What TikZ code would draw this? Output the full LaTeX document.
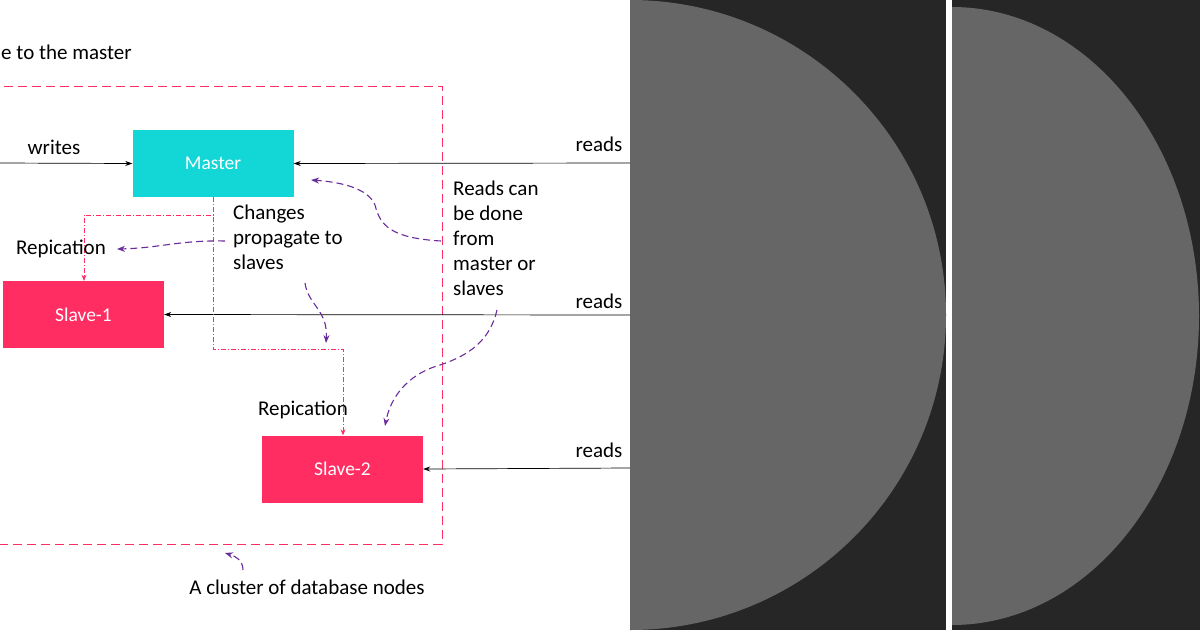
\documentclass[tikz,border=0pt]{standalone}
\usepackage{fontspec}
\setmainfont{Carlito}
\usetikzlibrary{arrows.meta}
\definecolor{cy}{HTML}{13D6D6}
\definecolor{pk}{HTML}{FF2D62}
\definecolor{pu}{HTML}{6A2C9A}
\definecolor{dk}{HTML}{262626}
\definecolor{gr}{HTML}{666666}
\begin{document}
\begin{tikzpicture}[x=1pt,y=-1pt,
 box/.style={draw=none,minimum width=161pt,minimum height=67pt,text=white,font=\fontsize{19.5}{20}\selectfont},
 lbl/.style={font=\fontsize{21}{25}\selectfont,inner sep=0pt},
 arr/.style={-{Stealth[length=7pt,width=5pt]},line width=0.7pt},
 rep/.style={draw=pk,dash pattern=on 5pt off 2pt on 1pt off 2pt,line width=0.7pt},
 pur/.style={draw=pu,dash pattern=on 7pt off 4pt,line width=1.1pt,-{Stealth[length=8pt,width=6pt]}}]
\useasboundingbox (0,0) rectangle (1200,630);
\fill[white] (0,0) rectangle (630,630);
\fill[dk] (630,0) rectangle (946,630);
\fill[white] (946,0) rectangle (952,630);
\fill[dk] (952,0) rectangle (1200,630);
\begin{scope}
\clip (630,0) rectangle (946,630);
\fill[gr] (630,315) ellipse [x radius=316, y radius=315];
\end{scope}
\begin{scope}
\clip (952,0) rectangle (1200,630);
\fill[gr] (952,316) ellipse [x radius=247, y radius=309];
\end{scope}
\begin{scope}
\clip (0,0) rectangle (630,630);
\node[lbl,anchor=west] (title) at (1,52) {e to the master};
\draw[pk,dash pattern=on 9pt off 5pt,line width=0.9pt] (-10,86) -- (442,86) -- (442,544) -- (-10,544);
\node[box,fill=cy] (m) at (213,163.5) {Master};
\node[box,fill=pk] (s1) at (83.5,314.5) {Slave-1};
\node[box,fill=pk] (s2) at (342.5,469) {Slave-2};
\coordinate (wl) at (0,163);
\coordinate (r0) at (630,163);
\coordinate (r1) at (630,315);
\coordinate (r2) at (630,468);
\draw[arr] (wl) -- (m.west);
\draw[arr] (r0) -- (m.east);
\draw[arr] (r1) -- (s1.east);
\draw[arr] (r2) -- (s2.east);
\node[lbl] (wt) at (54,147) {writes};
\node[lbl] (rt0) at (599,144) {reads};
\node[lbl] (rt1) at (599,301) {reads};
\node[lbl] (rt2) at (599,450) {reads};
\draw[rep,-{Stealth[length=6pt,width=5pt]}] (m.south) -- (213,215) -- (84,215) -- (s1.north -| 84,0);
\draw[rep,-{Stealth[length=6pt,width=5pt]}] (m.south) -- (213,349) -- (343,349) -- (s2.north -| 343,0);
\node[lbl] (rep1) at (61,249) {Repication};
\node[lbl] (rep2) at (303,410) {Repication};
\node[lbl,anchor=north west,align=left] (ch) at (233,205) {Changes\\propagate to\\slaves};
\node[lbl,anchor=north west,align=left] (rd) at (453,181) {Reads can\\be done\\from\\master or\\slaves};
\node[lbl] (cl) at (307,587) {A cluster of database nodes};
\draw[pur] (225,241) .. controls (180,240) and (160,248) .. (117,249);
\draw[pur] (305,283) .. controls (308,305) and (328,310) .. (326,343);
\draw[pur] (441,241) .. controls (390,238) and (380,225) .. (375,205) .. controls (368,188) and (340,182) .. (311,180);
\draw[pur] (497,310) .. controls (490,340) and (470,355) .. (440,365) .. controls (405,375) and (390,400) .. (385,426);
\draw[pur] (243,570) .. controls (243,560) and (235,556) .. (225,553);
\end{scope}
\end{tikzpicture}
\end{document}
